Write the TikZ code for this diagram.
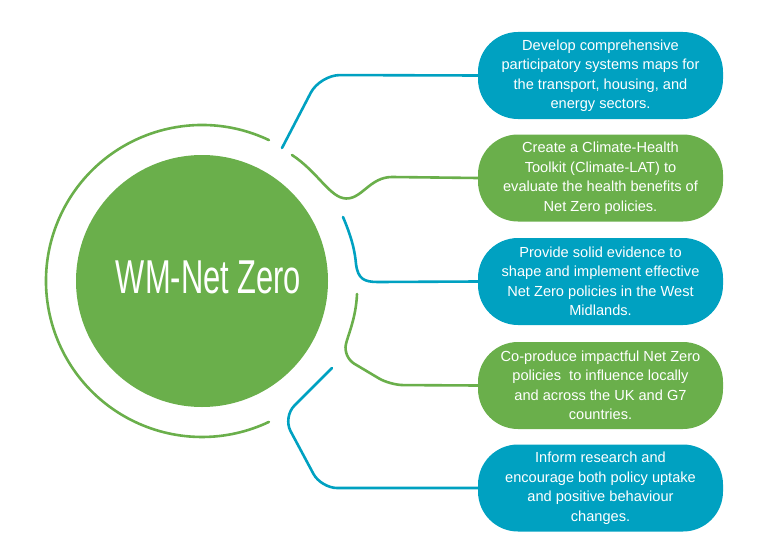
\documentclass[tikz,border=0pt]{standalone}
\usepackage{fontspec}
\setmainfont{Liberation Sans}
\definecolor{nzblue}{RGB}{0,161,193}
\definecolor{nzgreen}{RGB}{106,175,75}
\begin{document}
\begin{tikzpicture}[x=1pt,y=-1pt,
  box/.style={rounded corners=40pt, minimum width=245pt, minimum height=87pt,
    inner sep=0pt, text=white, align=center,
    font=\fontsize{14.6}{19.5}\selectfont},
  conn/.style={line width=2.6pt, line cap=round},
  bluebox/.style={box, fill=nzblue},
  greenbox/.style={box, fill=nzgreen}]
\useasboundingbox (0,0) rectangle (768,543);

% hub
\node (hub) [circle, fill=nzgreen, minimum size=252pt, inner sep=0pt] at (202,281) {};
\node (title) [anchor=base, text=white, inner sep=0pt] at (208.5,293)
  {\scalebox{0.65}[1]{\fontsize{47.5}{50}\selectfont WM-Net Zero}};
\draw[nzgreen, line width=2.6pt, line cap=round] (hub.center) ++(-64.6:156)
  arc[start angle=-64.6, end angle=-295.4, radius=156];

% boxes
\node (b1) [bluebox] at (600.5,75.5) {Develop comprehensive\\participatory systems maps for\\the transport, housing, and\\energy sectors.};
\node (b2) [greenbox] at (600.5,178) {Create a Climate-Health\\Toolkit (Climate-LAT) to\\evaluate the health benefits of\\Net Zero policies.};
\node (b3) [bluebox] at (600.5,281.5) {Provide solid evidence to\\shape and implement effective\\Net Zero policies in the West\\Midlands.};
\node (b4) [greenbox] at (600.5,385.5) {Co-produce impactful Net Zero\\policies\ \ to influence locally\\and across the UK and G7\\countries.};
\node (b5) [bluebox] at (600.5,488) {Inform research and\\encourage both policy uptake\\and positive behaviour\\changes.};

% connector start points
\coordinate (s1) at (282,148);
\coordinate (s2) at (292,155);
\coordinate (s3) at (343,217);
\coordinate (s4) at (357,294);
\coordinate (s5) at (332,368);

% connectors
\draw[conn, nzblue, rounded corners=20pt] (s1) -- (320,75) -- (b1.west);
\draw[conn, nzgreen] (s2) .. controls (318,172) and (330,198) .. (346,198.5)
  .. controls (362,199) and (370,177) .. (392,177) -- (b2.west);
\draw[conn, nzblue] (s3) .. controls (352,238) and (355,252) .. (356,264)
  .. controls (358,279) and (364,282) .. (378,282) -- (b3.west);
\draw[conn, nzgreen, rounded corners=13pt] (s4) .. controls (356,318) and (348,335) .. (343,357)
  -- (390,385) -- (b4.west);
\draw[conn, nzblue, rounded corners=16pt] (s5) -- (283,417) -- (321,488) -- (b5.west);
\end{tikzpicture}
\end{document}
